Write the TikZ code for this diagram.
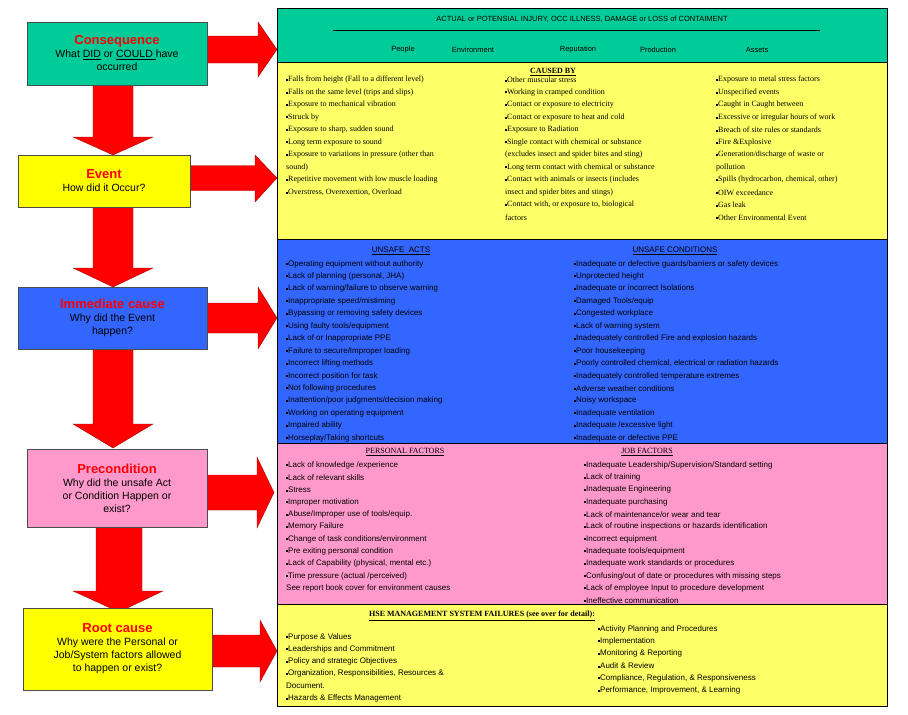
\documentclass[tikz,border=0pt]{standalone}
\usepackage{fontspec}
\setmainfont{Liberation Sans}
\newfontfamily\tms{Liberation Serif}
\usetikzlibrary{positioning}
\definecolor{consgreen}{RGB}{0,204,153}
\definecolor{evyellow}{RGB}{255,255,0}
\definecolor{paleyellow}{RGB}{255,255,102}
\definecolor{actblue}{RGB}{51,102,255}
\definecolor{prepink}{RGB}{255,153,204}
\newcommand{\sqb}{\rule[0.25ex]{2pt}{2pt}}
\newcommand{\bl}{\sqb}
\newcommand{\sttl}[1]{\textcolor{red}{\fontsize{13}{15}\selectfont\bfseries #1}}
% right block arrow: x0,x1,x2,ymid,shaft half,head top,head bottom
\newcommand{\harrow}[7]{\filldraw[arr] (#1,#4-#5) -- (#2,#4-#5) -- (#2,#6) -- (#3,#4) -- (#2,#7) -- (#2,#4+#5) -- (#1,#4+#5) -- cycle;}
% down block arrow: xmid,y0,y1,y2,shaft half,head left,head right
\newcommand{\varrow}[7]{\filldraw[arr] (#1-#5,#2) -- (#1-#5,#3) -- (#6,#3) -- (#1,#4) -- (#7,#3) -- (#1+#5,#3) -- (#1+#5,#2) -- cycle;}

\begin{document}
\begin{tikzpicture}[x=1pt,y=-1pt,
		arr/.style={fill=red,draw=red!60!black,line width=0.3pt},
		stage/.style={draw=black!70,line width=0.6pt,align=center,inner sep=2pt,font=\fontsize{10.5}{13}\selectfont},
		panel/.style={draw=black,line width=0.5pt},
		item/.style={anchor=west,inner sep=0pt,font=\fontsize{8}{9}\selectfont},
		titem/.style={item,font=\tms\fontsize{8}{9}\selectfont},
		head/.style={inner sep=0pt,font=\fontsize{8}{9}\selectfont},
		thead/.style={inner sep=0pt,font=\tms\bfseries\fontsize{8}{9}\selectfont}]
	\useasboundingbox (0,0) rectangle (908,715);
	
	%down arrows
	\varrow{113}{85}{137}{155}{20}{73}{153}
	\varrow{113}{207}{268}{287}{20}{73}{153}
	\varrow{113}{349}{424}{448}{20}{73}{153}
	\varrow{119}{527}{591}{612}{23}{73}{163}
	
	%right arrows
	\harrow{207}{258}{277}{49.5}{13.5}{22}{77}
	\harrow{190}{255}{277}{178}{12.5}{155}{202}
	\harrow{207}{258}{277}{318}{15}{287}{349}
	\harrow{207}{257}{274}{492.5}{17.5}{457}{528}
	\harrow{212}{260}{277}{651}{16}{620}{682}
	
	%stages
	\node[stage,fill=consgreen,minimum width=180pt,minimum height=63pt] (cons) at (117,53.5)
		{\sttl{Consequence}\\What \underline{DID} or \underline{COULD }have\\occurred};
	\node[stage,fill=evyellow,minimum width=172pt,minimum height=52pt] (event) at (104,181)
		{\sttl{Event}\\How did it Occur?};
	\node[stage,fill=actblue,minimum width=189pt,minimum height=62pt] (immed) at (112.5,318)
		{\sttl{Immediate cause}\\Why did the Event\\happen?};
	\node[stage,fill=prepink,minimum width=180pt,minimum height=78pt] (precon) at (117,488)
		{\sttl{Precondition}\\Why did the unsafe Act\\or Condition Happen or\\exist?};
	\node[stage,fill=evyellow,minimum width=189pt,minimum height=82pt] (root) at (117.5,649)
		{\sttl{Root cause}\\Why were the Personal or\\Job/System factors allowed\\to happen or exist?};
	
	%consequence panel
	\draw[panel,fill=consgreen] (277,8) rectangle (887,62);
	\node[head,font=\fontsize{7.5}{9}\selectfont] (ctitle) at (582,19) {ACTUAL or POTENSIAL INJURY, OCC ILLNESS, DAMAGE or LOSS of CONTAIMENT};
	\draw[line width=0.8pt] (333,30) -- (820,30);
	\foreach \x/\t in {403/People,473/Environment,578/Reputation,658/Production,757/Assets}
		\node[head,font=\fontsize{7.5}{9}\selectfont] at (\x,50) {\t};
	
	%event panel
	\draw[panel,fill=paleyellow] (277,62) rectangle (887,239);
	\node[thead] (caused) at (553,72) {\underline{CAUSED BY}};
	\foreach \t [count=\k] in {{\bl Falls from height (Fall to a different level)},{\bl Falls on the same level (trips and slips)},{\bl Exposure to mechanical vibration},{\bl Struck by},{\bl Exposure to sharp, sudden sound},{\bl Long term exposure to sound},{\bl Exposure to variations in pressure (other than},{sound)},{\bl Repetitive movement with low muscle loading},{\bl Overstress, Overexertion, Overload}}
		\node[titem] at (286,67.5+12.5*\k) {\t};
	\foreach \t [count=\k] in {{\bl Other muscular stress},{\bl Working in cramped condition},{\bl Contact or exposure to electricity},{\bl Contact or exposure to heat and cold},{\bl Exposure to Radiation},{\bl Single contact with chemical or substance},{(excludes insect and spider bites and sting)},{\bl Long term contact with chemical or substance},{\bl Contact with animals or insects (includes},{insect and spider bites and stings)},{\bl Contact with, or exposure to, biological},{factors}}
		\node[titem] at (505,67.5+12.5*\k) {\t};
	\foreach \t [count=\k] in {{\bl Exposure to metal stress factors},{\bl Unspecified events},{\bl Caught in Caught between},{\bl Excessive or irregular hours of work},{\bl Breach of site rules or standards},{\bl Fire \&Explosive},{\bl Generation/discharge of waste or},{pollution},{\bl Spills (hydrocarbon, chemical, other)},{\bl OIW exceedance},{\bl Gas leak},{\bl Other Environmental Event}}
		\node[titem] at (716,67.5+12.5*\k) {\t};
	
	%immediate panel
	\draw[panel,fill=actblue] (277,239) rectangle (887,443);
	\begin{scope}
		\clip (277,239) rectangle (887,443);
		\node[head] (acts) at (401,251) {\underline{UNSAFE\ \ ACTS}};
		\node[head] (conds) at (675,251) {\underline{UNSAFE CONDITIONS}};
		\foreach \t [count=\k] in {{Operating equipment without authority},{Lack of planning (personal, JHA)},{Lack of warning/failure to observe warning},{Inappropriate speed/mistiming},{Bypassing or removing safety devices},{Using faulty tools/equipment},{Lack of or Inappropriate PPE},{Failure to secure/Improper loading},{Incorrect lifting methods},{Incorrect position for task},{Not following procedures},{Inattention/poor judgments/decision making},{Working on operating equipment},{Impaired ability},{Horseplay/Taking shortcuts}}
			\node[item] at (286,251.5+12.45*\k) {\bl\t};
		\foreach \t [count=\k] in {{Inadequate or defective guards/barriers or safety devices},{Unprotected height},{Inadequate or incorrect Isolations},{Damaged Tools/equip},{Congested workplace},{Lack of warning system},{Inadequately controlled Fire and explosion hazards},{Poor housekeeping},{Poorly controlled chemical, electrical or radiation hazards},{Inadequately controlled temperature extremes},{Adverse weather conditions},{Noisy workspace},{Inadequate ventilation},{Inadequate /excessive light},{Inadequate or defective PPE}}
			\node[item] at (574,251.5+12.45*\k) {\bl\t};
	\end{scope}
	
	%precondition panel
	\draw[panel,fill=prepink] (277,443) rectangle (887,604);
	\begin{scope}
		\clip (277,443) rectangle (887,604);
		\node[thead,font=\tms\fontsize{8}{9}\selectfont] (pers) at (405,452) {\underline{PERSONAL FACTORS}};
		\node[thead,font=\tms\fontsize{8}{9}\selectfont] (job) at (647,452) {\underline{JOB FACTORS}};
		\foreach \t [count=\k] in {{\bl Lack of knowledge /experience},{\bl Lack of relevant skills},{\bl Stress},{\bl Improper motivation},{\bl Abuse/Improper use of tools/equip.},{\bl Memory Failure},{\bl Change of task conditions/environment},{\bl Pre exiting personal condition},{\bl Lack of Capability (physical, mental etc.)},{\bl Time pressure (actual /perceived)},{See report book cover for environment causes}}
			\node[item] at (286,453+12.3*\k) {\t};
		\foreach \t [count=\k] in {{Inadequate Leadership/Supervision/Standard setting},{Lack of training},{Inadequate Engineering},{Inadequate purchasing},{Lack of maintenance/or wear and tear},{Lack of routine inspections or hazards identification},{Incorrect equipment},{Inadequate tools/equipment},{Inadequate work standards or procedures},{Confusing/out of date or procedures with missing steps},{Lack of employee Input to procedure development},{Ineffective communication}}
			\node[item] at (584,453+12.3*\k) {\bl\t};
	\end{scope}
	
	%root panel
	\draw[panel,fill=paleyellow] (277,604) rectangle (887,706);
	\node[thead] (hse) at (482,616) {\underline{HSE MANAGEMENT SYSTEM FAILURES (see over for detail):}};
	\foreach \t [count=\k] in {{\bl Purpose \& Values},{\bl Leaderships and Commitment},{\bl Policy and strategic Objectives},{\bl Organization, Responsibilities, Resources \&},{Document.},{\bl Hazards \& Effects Management}}
		\node[item] at (286,624.7+12.3*\k) {\t};
	\foreach \t [count=\k] in {{Activity Planning and Procedures},{Implementation},{Monitoring \& Reporting},{Audit \& Review},{Compliance, Regulation, \& Responsiveness},{Performance, Improvement, \& Learning}}
		\node[item] at (598,616.7+12.3*\k) {\bl\t};
\end{tikzpicture}
\end{document}
